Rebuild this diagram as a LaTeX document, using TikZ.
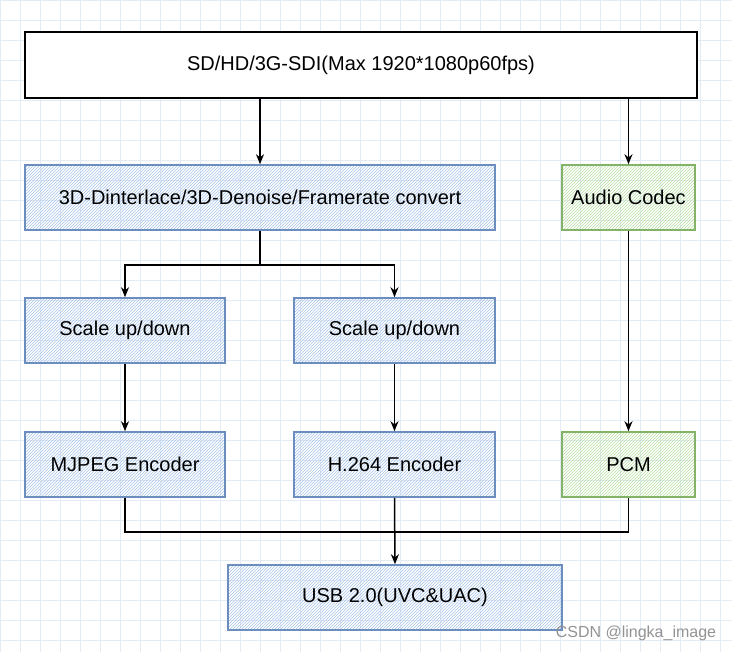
\documentclass[tikz,border=0pt]{standalone}
\usepackage{fontspec}
\setmainfont{Liberation Sans}
\usetikzlibrary{patterns,arrows.meta}
\definecolor{bb}{HTML}{6C8EBF}
\definecolor{bf}{HTML}{A9C4EB}
\definecolor{gb}{HTML}{82B366}
\definecolor{gf}{HTML}{B9E0A5}
\definecolor{grid}{HTML}{E3EBF5}
\begin{document}
\begin{tikzpicture}[x=1pt,y=-1pt,
  box/.style={draw=bb,line width=1.6pt,pattern=north east lines,pattern color=bf,font=\fontsize{20}{23}\selectfont},
  gbox/.style={box,draw=gb,pattern color=gf},
  arr/.style={line width=1.5pt,-{Stealth[length=10pt,width=8pt]}},
  ln/.style={line width=1.5pt}]
\useasboundingbox (0,0) rectangle (732,652);
\fill[white] (0,0) rectangle (732,652);
\foreach \i in {0,20,...,740} \draw[grid,line width=0.5pt] (\i,0) -- (\i,652);
\foreach \j in {0,20,...,660} \draw[grid,line width=0.5pt] (0,\j) -- (732,\j);
\node[box,draw=black,line width=2pt,pattern=none,fill=white,minimum width=672pt,minimum height=66pt] (sdi) at (361,65) {SD/HD/3G-SDI(Max 1920*1080p60fps)};
\node[box,minimum width=470pt,minimum height=65pt] (dei) at (260,197.5) {3D-Dinterlace/3D-Denoise/Framerate convert};
\node[gbox,minimum width=133pt,minimum height=65pt] (ac) at (628.5,197.5) {Audio Codec};
\node[box,minimum width=200pt,minimum height=65pt] (s1) at (125,330.5) {Scale up/down};
\node[box,minimum width=201pt,minimum height=65pt] (s2) at (394.5,330.5) {Scale up/down};
\node[box,minimum width=200pt,minimum height=65pt] (mj) at (125,464.5) {MJPEG Encoder};
\node[box,minimum width=201pt,minimum height=65pt] (h264) at (394.5,464.5) {H.264 Encoder};
\node[gbox,minimum width=133pt,minimum height=65pt] (pcm) at (628.5,464.5) {PCM};
\node[box,minimum width=334pt,minimum height=65pt] (usb) at (395,597.5) {USB 2.0(UVC\&UAC)};
\node[text=gray!85,font=\fontsize{16}{18}\selectfont] (wm) at (636,633) {CSDN @lingka\_image};
\coordinate (j1) at (260,265);
\coordinate (j2) at (394.5,532);
\draw[arr] (sdi.south -| dei.north) -- (dei.north);
\draw[arr] (sdi.south -| ac.north) -- (ac.north);
\draw[ln] (dei.south) -- (j1);
\draw[arr] (j1) -| (s1.north);
\draw[arr] (j1) -| (s2.north);
\draw[arr] (s1) -- (mj);
\draw[arr] (s2) -- (h264);
\draw[arr] (ac) -- (pcm);
\draw[ln] (mj.south) |- (j2);
\draw[ln] (pcm.south) |- (j2);
\draw[arr] (h264.south) -- (usb.north);
\end{tikzpicture}
\end{document}
